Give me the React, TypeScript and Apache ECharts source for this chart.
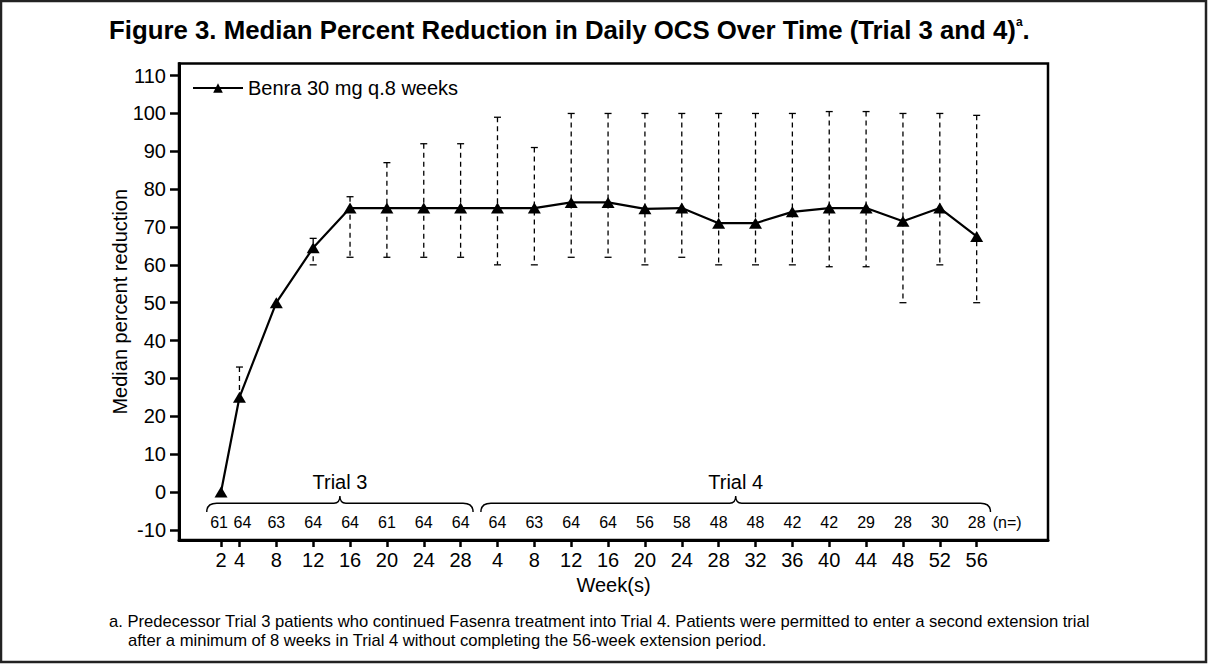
import React, { useEffect, useRef } from "react";
import * as echarts from "echarts";

// ---- data ----
const weeks = [2, 4, 8, 12, 16, 20, 24, 28, 32, 36, 40, 44, 48, 52, 56, 60, 64, 68, 72, 76, 80, 84];
const weekLabels = ["2", "4", "8", "12", "16", "20", "24", "28", "4", "8", "12", "16", "20", "24", "28", "32", "36", "40", "44", "48", "52", "56"];
const median = [0, 25, 50, 64.5, 75, 75, 75, 75, 75, 75, 76.5, 76.5, 74.8, 75, 71, 71, 74, 75, 75, 71.5, 75, 67.5];
const upper = [null, 33, null, 67, 78, 87, 92, 92, 99, 91, 100, 100, 100, 100, 100, 100, 100, 100.5, 100.5, 100, 100, 99.5];
const lower = [null, 24.5, null, 60, 62, 62, 62, 62, 60, 60, 62, 62, 60, 62, 60, 60, 60, 59.5, 59.5, 50, 60, 50];
const nPatients = [61, 64, 63, 64, 64, 61, 64, 64, 64, 63, 64, 64, 56, 58, 48, 48, 42, 42, 29, 28, 30, 28];
const yTicks = [-10, 0, 10, 20, 30, 40, 50, 60, 70, 80, 90, 100, 110];
const trialNames = ["Trial 3", "Trial 4"];
const trialStart = [0.45, 30.2];
const trialEnd = [29.35, 85.5];
const seriesName = "Benra 30 mg q.8 weeks";

const FONT = "'Liberation Sans', Arial, Helvetica, sans-serif";

export default function App() {
  const ref = useRef<HTMLDivElement>(null);
  useEffect(() => {
    if (!ref.current) return;
    const chart = echarts.init(ref.current, null, { renderer: "svg" });
    const lineData = weeks.map((w, i) => [w, median[i]]);
    const errData = weeks
      .map((w, i) => [w, lower[i], upper[i]])
      .filter((d) => d[1] != null && d[2] != null);
    const nData = weeks.map((w, i) => [w, nPatients[i]]);
    const braceData = trialStart.map((s, i) => [s, trialEnd[i]]);

    const option: any = {
      animation: false,
      backgroundColor: "#fff",
      textStyle: { fontFamily: FONT },
      title: {
        text: "Figure 3. Median Percent Reduction in Daily OCS Over Time (Trial 3 and 4){sup|a}.",
        left: 109,
        top: 16,
        padding: 0,
        textStyle: {
          fontFamily: FONT,
          fontSize: 25.8,
          fontWeight: "bold",
          color: "#000",
          rich: {
            sup: { fontFamily: FONT, fontSize: 12, fontWeight: "bold", color: "#000", verticalAlign: "top", lineHeight: 28 },
          },
        },
      },
      legend: {
        data: [seriesName],
        left: 192,
        top: 78,
        padding: 0,
        itemWidth: 50,
        itemHeight: 12,
        textStyle: { fontFamily: FONT, fontSize: 20, color: "#000" },
      },
      grid: {
        left: 179,
        top: 63.5,
        right: 160,
        bottom: 124,
        show: true,
        borderColor: "#000",
        borderWidth: 2.5,
        containLabel: false,
      },
      xAxis: {
        type: "value",
        min: -2.56,
        max: 91.74,
        name: "Week(s)",
        nameLocation: "middle",
        nameGap: 32,
        nameTextStyle: { fontFamily: FONT, fontSize: 20, color: "#000" },
        splitLine: { show: false },
        axisLine: { show: true, onZero: false, lineStyle: { color: "#000", width: 3 } },
        axisTick: { show: true, length: 7, customValues: weeks, lineStyle: { color: "#000", width: 2.5 } },
        axisLabel: {
          customValues: weeks,
          margin: 10,
          fontFamily: FONT,
          fontSize: 20,
          color: "#000",
          formatter: (v: number) => {
            const i = weeks.indexOf(v);
            return i >= 0 ? weekLabels[i] : "";
          },
        },
      },
      yAxis: {
        type: "value",
        min: -12.7,
        max: 113.2,
        name: "Median percent reduction",
        nameLocation: "middle",
        nameRotate: 90,
        nameGap: 49,
        nameMoveOverlap: false,
        nameTextStyle: { fontFamily: FONT, fontSize: 20, color: "#000" },
        splitLine: { show: false },
        axisLine: { show: true, onZero: false, lineStyle: { color: "#000", width: 3 } },
        axisTick: { show: true, length: 9, customValues: yTicks, lineStyle: { color: "#000", width: 2.5 } },
        axisLabel: {
          customValues: yTicks,
          margin: 13,
          fontFamily: FONT,
          fontSize: 20,
          color: "#000",
        },
      },
      series: [
        {
          type: "custom",
          name: "errorbars",
          z: 1,
          silent: true,
          data: errData,
          encode: { x: 0, y: [1, 2] },
          renderItem: (params: any, api: any) => {
            const x = api.value(0);
            const lo = api.coord([x, api.value(1)]);
            const hi = api.coord([x, api.value(2)]);
            const cw = 3.5;
            const capStyle = { stroke: "#000", lineWidth: 1.3 };
            return {
              type: "group",
              children: [
                {
                  type: "line",
                  shape: { x1: hi[0], y1: hi[1], x2: lo[0], y2: lo[1] },
                  style: { stroke: "#000", lineWidth: 1.3, lineDash: [5, 4] },
                },
                { type: "line", shape: { x1: hi[0] - cw, y1: hi[1], x2: hi[0] + cw, y2: hi[1] }, style: capStyle },
                { type: "line", shape: { x1: lo[0] - cw, y1: lo[1], x2: lo[0] + cw, y2: lo[1] }, style: capStyle },
              ],
            };
          },
        },
        {
          type: "line",
          name: seriesName,
          z: 3,
          data: lineData,
          symbol: "triangle",
          symbolSize: [13, 11],
          itemStyle: { color: "#000" },
          lineStyle: { color: "#000", width: 2.2 },
        },
        {
          type: "custom",
          name: "nlabels",
          silent: true,
          z: 2,
          data: nData,
          renderItem: (params: any, api: any) => {
            const idx = params.dataIndex;
            const p = api.coord([api.value(0), -8.2]);
            const dx = idx === 0 ? -2 : idx === 1 ? 3 : 0;
            const children: any[] = [
              {
                type: "text",
                x: p[0] + dx,
                y: p[1],
                style: { text: String(api.value(1)), font: `16px ${FONT}`, fill: "#000", align: "center", verticalAlign: "middle" },
              },
            ];
            if (idx === weeks.length - 1) {
              children.push({
                type: "text",
                x: p[0] + 16,
                y: p[1],
                style: { text: "(n=)", font: `16px ${FONT}`, fill: "#000", align: "left", verticalAlign: "middle" },
              });
            }
            return { type: "group", children };
          },
        },
        {
          type: "custom",
          name: "braces",
          silent: true,
          z: 2,
          data: braceData,
          renderItem: (params: any, api: any) => {
            const idx = params.dataIndex;
            const x0 = api.coord([api.value(0), 0])[0];
            const x1 = api.coord([api.value(1), 0])[0];
            const yLine = api.coord([0, -3.0])[1];
            const yEnd = api.coord([0, -5.3])[1];
            const yTip = api.coord([0, -1.1])[1];
            const yText = api.coord([0, 2.6])[1];
            const xc = (x0 + x1) / 2;
            const r = 10;
            const t = 6;
            const d =
              `M${x0},${yEnd} Q${x0},${yLine} ${x0 + r},${yLine} L${xc - t},${yLine} Q${xc},${yLine} ${xc},${yTip} ` +
              `Q${xc},${yLine} ${xc + t},${yLine} L${x1 - r},${yLine} Q${x1},${yLine} ${x1},${yEnd}`;
            return {
              type: "group",
              children: [
                { type: "path", shape: { pathData: d }, style: { stroke: "#000", fill: "none", lineWidth: 1.4 } },
                {
                  type: "text",
                  x: xc,
                  y: yText,
                  style: { text: trialNames[idx], font: `20px ${FONT}`, fill: "#000", align: "center", verticalAlign: "middle" },
                },
              ],
            };
          },
        },
      ],
      graphic: [
        {
          type: "rect",
          shape: { x: 1, y: 1, width: 1205, height: 661 },
          style: { fill: "none", stroke: "#222", lineWidth: 2.5 },
          silent: true,
        },
        {
          type: "text",
          left: 109,
          top: 613,
          style: {
            text: "a. Predecessor Trial 3 patients who continued Fasenra treatment into Trial 4. Patients were permitted to enter a second extension trial",
            font: `16.6px ${FONT}`,
            fill: "#000",
          },
        },
        {
          type: "text",
          left: 128,
          top: 632,
          style: {
            text: "after a minimum of 8 weeks in Trial 4 without completing the 56-week extension period.",
            font: `16.6px ${FONT}`,
            fill: "#000",
          },
        },
      ],
    };
    chart.setOption(option);
    return () => chart.dispose();
  }, []);
  return (
    <div
      ref={ref}
      style={{ position: "fixed", left: 0, top: 0, width: 1208, height: 664, background: "#fff" }}
    />
  );
}
